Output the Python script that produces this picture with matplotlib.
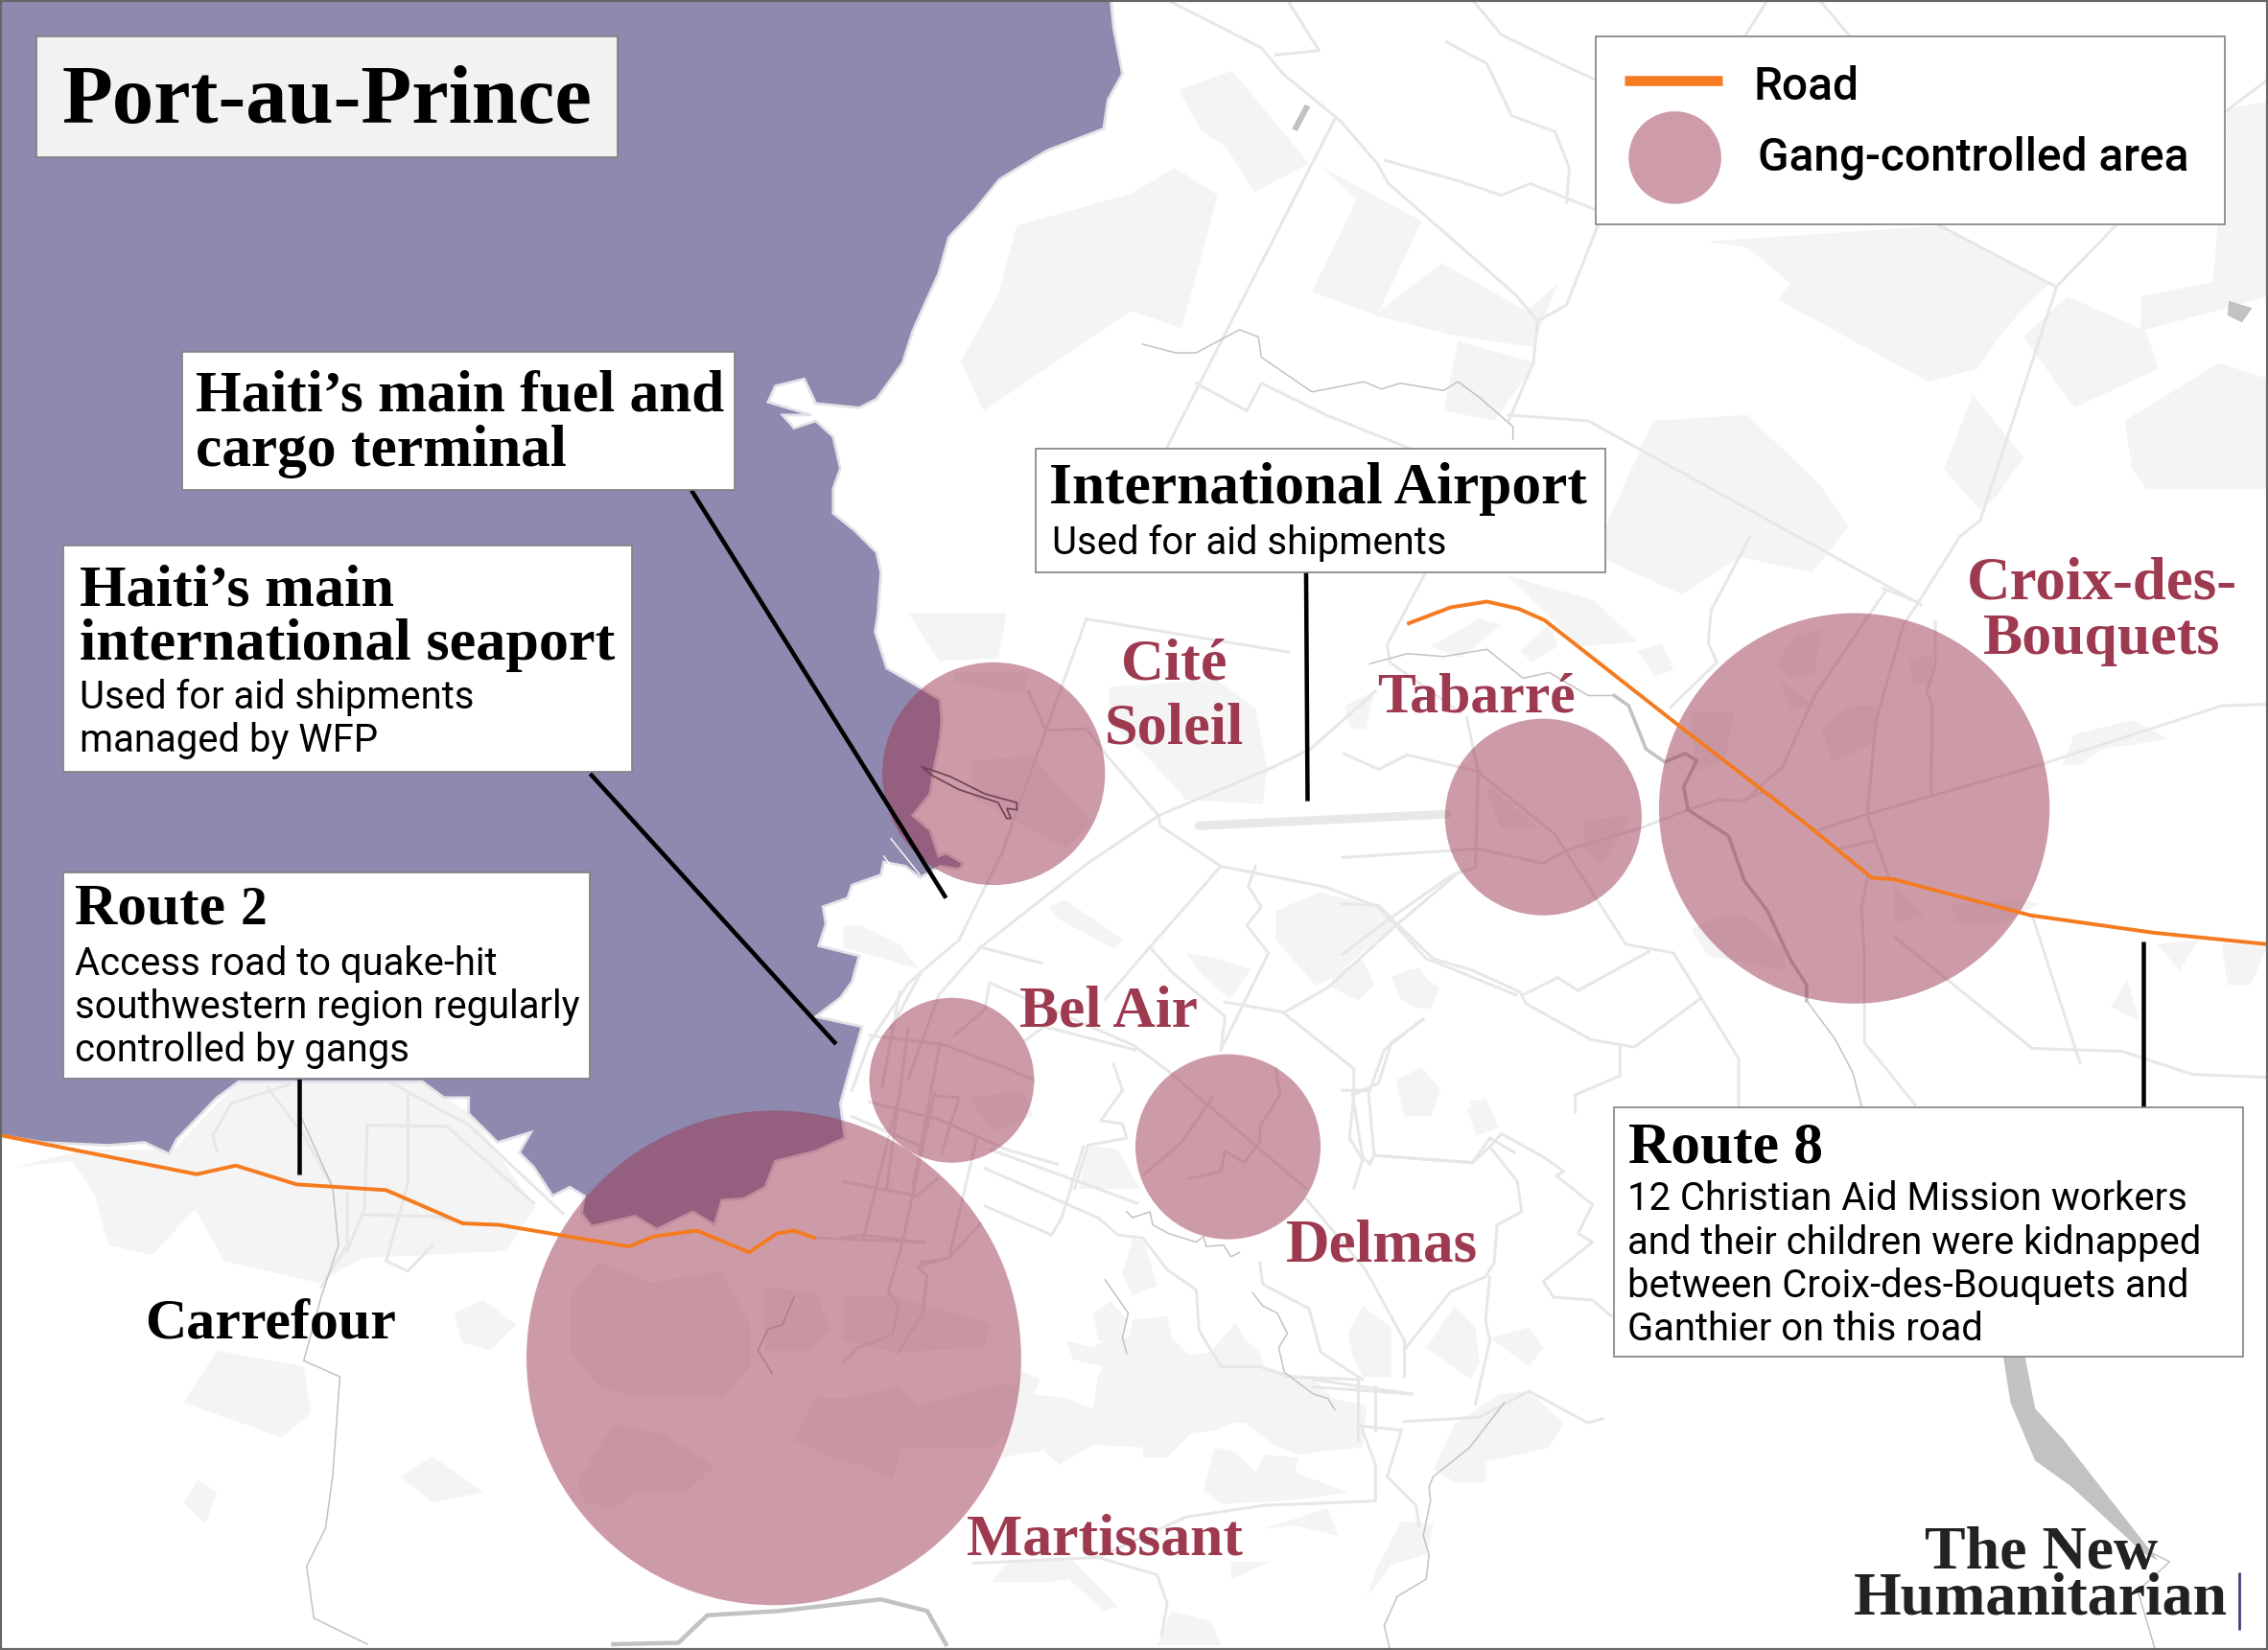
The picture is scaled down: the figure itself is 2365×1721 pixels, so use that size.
#!/usr/bin/env python3
"""Port-au-Prince gang control map, traced by eye from the reference picture.

All coordinates are map positions on a 1568 x 1141 grid, y running downwards.
"""
import matplotlib

matplotlib.use("Agg")
import matplotlib.pyplot as plt
from matplotlib.patches import Circle, Polygon, Rectangle

WATER = "#8e89ae"
PATCH = "#f4f4f4"
ROAD = "#e7e7e7"
RIVER = "#c2c2c2"
ORANGE = "#f47b20"
CRIMSON = "#9e3a50"
SERIF = "Liberation Serif"
SANS = "Roboto"

COAST = [
    (768, 0), (770, 20), (776, 51), (766, 69), (763, 89), (724, 104), (691, 124), (674, 145),
    (656, 164), (649, 189), (639, 211), (631, 229), (624, 251), (606, 276), (594, 282),
    (564, 279), (556, 262), (536, 267), (531, 278), (561, 287), (541, 287), (549, 296),
    (564, 291), (576, 302), (581, 324), (576, 338), (576, 355), (591, 367), (606, 382),
    (609, 396), (607, 424), (605, 437), (613, 462), (625, 469), (637, 476), (650, 484),
    (651, 498), (650, 511), (646, 530), (643, 549), (631, 564), (643, 574), (649, 592),
    (654, 590), (666, 597), (663, 601), (650, 599), (636, 607),
    (626, 599), (611, 596), (609, 605), (589, 612), (586, 621), (569, 627), (571, 639),
    (566, 654), (594, 661), (589, 679), (581, 690), (564, 703), (596, 710), (589, 734),
    (581, 763), (584, 787), (564, 796), (536, 803), (529, 821), (514, 829), (499, 830),
    (494, 847), (479, 838), (454, 850), (439, 841), (409, 848), (402, 839), (404, 827),
    (394, 821), (382, 827), (369, 807), (359, 797), (367, 783), (344, 790), (324, 770),
    (324, 759), (307, 759), (292, 748), (165, 748), (150, 759), (122, 788), (117, 798),
    (100, 790), (75, 792), (30, 790), (0, 785), (0, 0),
]

BUILT_UP = [
    [(1180, 167), (1342, 156), (1417, 196), (1395, 218), (1382, 233), (1367, 255), (1333, 264), (1229, 207), (1238, 196), (1208, 171)],
    [(1429, 205), (1484, 229), (1492, 255), (1434, 282), (1399, 233)],
    [(1469, 291), (1534, 251), (1568, 262), (1568, 338), (1484, 338), (1474, 324)],
    [(1540, 75), (1568, 70), (1568, 205), (1480, 229), (1480, 205), (1530, 195)],
    [(815, 62), (852, 49), (905, 113), (867, 133), (848, 102), (830, 90)],
    [(703, 156), (782, 134), (812, 116), (842, 135), (817, 227), (782, 215), (680, 284), (664, 250), (690, 204)],
    [(913, 115), (983, 153), (952, 218), (907, 202), (938, 138)],
    [(950, 218), (997, 182), (1055, 215), (1077, 196), (1060, 240), (1005, 232)],
    [(1008, 236), (1062, 251), (1033, 291), (998, 284)],
    [(1102, 382), (1143, 291), (1208, 287), (1258, 335), (1278, 364), (1253, 396), (1203, 385), (1163, 411), (1123, 393)],
    [(1344, 324), (1364, 273), (1399, 316), (1379, 345), (1369, 353)],
    [(1042, 398), (1102, 415), (1132, 444), (1092, 447)],
    # Cité Soleil area
    [(628, 424), (696, 424), (690, 455), (649, 457)],
    [(767, 475), (841, 470), (868, 490), (876, 531), (873, 556), (820, 553), (791, 521), (767, 500)],
    [(672, 526), (714, 523), (755, 569), (737, 587), (672, 551)],
    [(660, 465), (711, 465), (708, 480), (660, 472)],
    [(930, 488), (950, 478), (944, 505), (933, 503)],
    # Martissant circle
    [(394, 898), (414, 872), (449, 887), (499, 879), (519, 916), (519, 945), (499, 966), (439, 966), (414, 959), (394, 934)],
    [(529, 890), (564, 894), (574, 919), (559, 934), (529, 934)],
    [(399, 1025), (424, 985), (459, 992), (494, 1014), (474, 1032), (439, 1032), (424, 1043), (404, 1039)],
    [(549, 996), (564, 966), (583, 967), (583, 1011), (564, 1003)],
    [(583, 896), (617, 896), (685, 915), (681, 932), (617, 935), (583, 927)],
    [(583, 967), (621, 959), (634, 972), (692, 957), (705, 959), (695, 991), (685, 1001), (624, 1001), (617, 1023), (597, 1013), (583, 1011)],
    # Carrefour
    [(10, 807), (50, 803), (65, 825), (75, 861), (105, 868), (135, 836), (155, 872), (220, 887), (250, 870), (350, 865), (370, 835), (325, 770), (290, 748), (165, 748), (120, 795), (60, 795)],
    [(127, 970), (150, 934), (210, 945), (215, 977), (195, 994)],
    [(314, 908), (334, 899), (357, 916), (339, 934), (319, 928)],
    [(277, 1021), (299, 1007), (334, 1032), (299, 1039)],
    [(127, 1039), (137, 1023), (150, 1032), (142, 1054)],
    # south of Delmas
    [(737, 927), (756, 932), (766, 925), (781, 925), (783, 913), (807, 910), (810, 925), (822, 937), (837, 935), (847, 923), (854, 915), (861, 927), (871, 935), (874, 945), (891, 950), (908, 954), (922, 967), (945, 972), (942, 1001), (918, 1003), (898, 1006), (881, 999), (861, 984), (851, 984), (841, 989), (824, 991), (807, 1008), (790, 1008), (790, 1001), (756, 999), (732, 1013), (722, 1003), (702, 1006), (692, 1008), (705, 947), (719, 954), (715, 964), (736, 967), (756, 974), (759, 952), (763, 945), (742, 940)],
    [(832, 1030), (840, 1001), (854, 1004), (868, 1018), (874, 1006), (898, 1008), (895, 1018), (932, 1032), (888, 1038), (844, 1040)],
    [(776, 881), (783, 856), (791, 859), (800, 889), (783, 896)],
    [(756, 908), (768, 900), (780, 913), (776, 925), (759, 927)],
    [(932, 922), (942, 903), (962, 918), (962, 952), (942, 952), (935, 937)],
    [(986, 932), (1006, 903), (1020, 918), (1023, 942), (1017, 954)],
    [(1030, 925), (1057, 918), (1067, 932), (1057, 945)],
    [(991, 1016), (1006, 984), (1037, 964), (1057, 962), (1081, 984), (1071, 1001), (1027, 1011), (1027, 1025), (1006, 1025)],
    [(952, 1084), (969, 1052), (991, 1054), (986, 1075), (962, 1082), (945, 1104)],
    [(800, 1138), (810, 1114), (837, 1121), (844, 1138)],
    [(874, 1057), (918, 1043), (925, 1062), (895, 1055)],
    [(685, 1094), (698, 1079), (742, 1079), (773, 1111), (763, 1114), (739, 1092), (725, 1094)],
    [(851, 1080), (878, 1080), (851, 1092)],
    [(1016, 761), (1027, 761), (1035, 780), (1023, 784)],
    [(972, 758), (993, 756), (986, 770), (972, 770)],
    # Croix-des-Bouquets circle
    [(1259, 503), (1279, 488), (1300, 488), (1297, 513), (1267, 527)],
    [(1228, 458), (1242, 440), (1259, 435), (1255, 465), (1238, 470)],
    [(1230, 470), (1255, 488), (1238, 490)],
    [(1320, 457), (1336, 452), (1336, 473), (1322, 473)],
    [(1169, 493), (1199, 492), (1193, 524), (1173, 534)],
    [(1169, 643), (1185, 635), (1206, 633), (1234, 658), (1234, 671), (1181, 661)],
    [(1310, 612), (1330, 633), (1310, 638)],
    [(1348, 625), (1397, 622), (1410, 625), (1381, 640), (1353, 638)],
    [(1426, 529), (1434, 508), (1475, 498), (1499, 511), (1454, 518), (1438, 529)],
    # Tabarré
    [(1030, 544), (1063, 572), (1038, 573), (1028, 549)],
    [(1095, 567), (1128, 564), (1108, 597), (1095, 589)],
    [(989, 447), (1022, 428), (1038, 432), (1010, 455)],
    [(1051, 450), (1071, 432), (1077, 447), (1059, 458)],
    [(1132, 450), (1149, 445), (1157, 463), (1144, 468)],
    [(965, 676), (981, 669), (993, 686), (981, 698), (969, 691)],
    [(1459, 696), (1471, 678), (1479, 706)],
    [(1491, 653), (1520, 650), (1507, 671)],
    [(1536, 653), (1568, 653), (1556, 681), (1540, 681)],
    # between Bel Air and Tabarré
    [(882, 630), (912, 617), (953, 627), (965, 640), (918, 678), (909, 681), (882, 650)],
    [(820, 659), (841, 663), (865, 670), (850, 691), (832, 675)],
    [(725, 627), (736, 622), (777, 650), (770, 656), (731, 635)],
    [(921, 673), (942, 663), (950, 681), (939, 692), (921, 683)],
    [(962, 675), (977, 670), (995, 683), (989, 698), (968, 691)],
    [(965, 747), (983, 738), (996, 754), (989, 772), (971, 772)],
    [(1014, 767), (1027, 759), (1036, 780), (1021, 785)],
    [(583, 640), (595, 640), (622, 653), (635, 670), (583, 655)],
    [(746, 822), (752, 792), (773, 795), (788, 822)],
    [(669, 759), (708, 754), (714, 772), (687, 782)],
]

ROADS = [
    [(807, 0), (872, 33), (887, 51), (927, 84), (952, 113), (960, 127), (1048, 204), (1063, 222), (1060, 251), (1043, 291)],
    [(923, 82), (807, 309)],
    [(1063, 222), (1083, 211), (1105, 155)],
    [(958, 111), (1008, 125), (1038, 135), (1058, 127), (1103, 145)],
    [(1018, 0), (1038, 24), (1085, 47), (1103, 55)],
    [(1000, 29), (1028, 44), (1045, 80), (1075, 91), (1085, 116), (1083, 140)],
    [(1043, 287), (1098, 291), (1328, 418)],
    [(1568, 55), (1540, 76), (1422, 198), (1369, 360), (1355, 371)],
    [(1421, 198), (1341, 156)],
    [(890, 0), (912, 35), (882, 38)],
    [(1207, 24), (1222, 0)],
    [(1258, 0), (1278, 24)],
    [(1325, 416), (1302, 407)],
    [(827, 265), (862, 284), (872, 265), (917, 287), (982, 313)],
    # Tabarré and airport
    [(928, 593), (1022, 587), (1067, 597), (1083, 588), (1136, 572), (1167, 560), (1189, 553), (1204, 554), (1220, 547)],
    [(1257, 574), (1291, 563), (1410, 529), (1536, 488), (1568, 487)],
    [(1271, 587), (1297, 581)],
    [(1355, 371), (1326, 417), (1316, 432), (1297, 498), (1291, 563), (1297, 582), (1306, 607)],
    [(1291, 607), (1287, 628), (1289, 663), (1289, 721), (1304, 739), (1324, 764)],
    [(1304, 408), (1255, 480), (1232, 531), (1222, 539), (1206, 554)],
    [(1210, 371), (1183, 422), (1181, 445), (1187, 458), (1155, 489)],
    [(1338, 430), (1338, 460), (1332, 478), (1336, 488), (1335, 549)],
    [(1310, 648), (1405, 725), (1467, 727), (1516, 743), (1568, 745)],
    [(1405, 633), (1438, 735)],
    [(1014, 496), (1022, 534), (1020, 600), (1004, 605), (957, 638), (928, 660)],
    [(1022, 534), (1075, 577), (1124, 653), (1157, 659), (1202, 732), (1202, 769)],
    [(928, 625), (953, 626), (967, 640), (991, 663), (1018, 671), (1051, 686), (1055, 694), (1100, 719), (1130, 724), (1175, 691)],
    [(1053, 688), (1077, 676), (1091, 685), (1140, 658)],
    [(929, 521), (953, 532), (973, 522), (1024, 534)],
    [(1120, 724), (1120, 744), (1089, 757), (1089, 769)],
    [(983, 705), (957, 726), (947, 754), (928, 754)],
    [(985, 397), (959, 446), (961, 458), (1010, 493)],
    # centre
    [(751, 428), (723, 505), (693, 589), (663, 650), (637, 672), (616, 711)],
    [(801, 564), (879, 531), (906, 518), (951, 478)],
    [(801, 564), (752, 597), (678, 655), (649, 688), (628, 746)],
    [(751, 428), (891, 451)],
    [(711, 478), (723, 505), (751, 504), (764, 521), (801, 564)],
    [(801, 564), (802, 571), (844, 599), (915, 613), (953, 627), (986, 663), (1004, 670), (1048, 688)],
    [(844, 599), (795, 655), (764, 691)],
    [(795, 655), (811, 673), (847, 703), (844, 726)],
    [(868, 599), (863, 613), (872, 627), (862, 640), (877, 659), (844, 726)],
    [(847, 693), (888, 700), (918, 683), (965, 640), (1010, 602)],
    [(888, 701), (936, 739), (936, 754), (946, 754), (950, 799), (1018, 804), (1030, 787), (1047, 797)],
    [(984, 705), (962, 721), (953, 749), (936, 757)],
    [(936, 757), (933, 787), (942, 802), (936, 822)],
    [(678, 655), (720, 666)],
    [(685, 680), (784, 723), (808, 741), (903, 822)],
    [(770, 736), (776, 754), (761, 775), (776, 777), (779, 787), (752, 792), (743, 822)],
    [(882, 739), (885, 757), (871, 779), (871, 790), (860, 804), (847, 796), (844, 810), (823, 815)],
    [(838, 759), (817, 790), (791, 812)],
    # Bel Air grid
    [(589, 754), (601, 721), (628, 680), (637, 672)],
    [(622, 686), (610, 751)],
    [(628, 711), (613, 822)],
    [(650, 721), (637, 790), (631, 822)],
    [(660, 716), (681, 698), (684, 680)],
    [(601, 716), (651, 722), (697, 739), (715, 747)],
    [(601, 762), (649, 774), (696, 795), (731, 805)],
    [(589, 772), (635, 792)],
    [(647, 758), (663, 759), (651, 797)],
    [(708, 720), (722, 710), (785, 726)],
    # Martissant
    [(583, 817), (634, 827), (648, 815)],
    [(583, 856), (597, 854), (637, 859)],
    [(637, 873), (656, 870), (678, 846)],
    [(622, 756), (597, 856)],
    [(646, 756), (624, 859), (614, 893), (621, 903), (617, 923), (593, 932), (583, 942)],
    [(675, 788), (656, 870), (634, 876), (641, 882), (638, 908), (621, 935)],
    [(564, 856), (639, 859)],
    # Delmas and south
    [(685, 795), (759, 822), (786, 832)],
    [(681, 808), (736, 832), (759, 842), (773, 854), (790, 856), (807, 878), (827, 892), (829, 920), (844, 945), (871, 945), (891, 952), (939, 954)],
    [(749, 793), (734, 842), (727, 854), (681, 834)],
    [(871, 873), (873, 888), (905, 905), (913, 935), (942, 954)],
    [(903, 829), (944, 878), (971, 927), (971, 952)],
    [(935, 756), (942, 800), (947, 805), (950, 799), (1018, 804), (1030, 793), (1049, 817), (1052, 838), (1035, 847), (1033, 873), (1027, 883), (1003, 893), (972, 932)],
    [(1030, 793), (1038, 784), (1067, 800), (1081, 810), (1076, 813), (1101, 833), (1091, 853), (1101, 859), (1067, 886), (1074, 897), (1101, 899), (1114, 910)],
    [(1030, 883), (1027, 913), (1030, 927), (1020, 971)],
    [(971, 983), (1023, 980), (1057, 962), (1098, 984), (1108, 981)],
    [(942, 989), (951, 1013), (951, 1038), (874, 1041), (820, 1049), (759, 1077), (800, 1089), (807, 1109), (803, 1131)],
    [(673, 1081), (759, 1077)],
    [(969, 989), (959, 1021), (979, 1041), (981, 1055)],
    [(908, 954), (976, 964)],
    [(908, 959), (976, 964)],
    [(939, 954), (939, 996)],
    [(951, 959), (951, 989)],
    [(939, 986), (969, 989)],
    # Carrefour
    [(150, 796), (147, 785), (160, 763), (200, 750)],
    [(185, 752), (210, 785), (230, 821)],
    [(254, 778), (252, 836), (240, 865)],
    [(282, 756), (282, 818), (267, 872), (282, 879), (299, 861)],
    [(254, 778), (309, 779), (369, 832)],
    [(269, 748), (324, 778), (389, 839)],
    [(240, 825), (240, 861), (222, 890)],
    [(250, 840), (299, 841), (324, 846)],
]

RIVERS_THIN = [
    [(207, 770), (230, 821), (234, 861), (222, 897), (210, 941), (235, 952), (230, 1021), (225, 1057), (212, 1083), (217, 1119), (254, 1137)],
    [(790, 238), (813, 244), (827, 244), (857, 228), (870, 233), (872, 247), (907, 271), (943, 264), (955, 269), (968, 265), (998, 270), (1008, 264), (1023, 275), (1046, 295), (1046, 304)],
    [(947, 459), (973, 452), (998, 454), (1028, 449), (1053, 469), (1071, 465), (1098, 481), (1116, 481)],
    [(1249, 692), (1269, 719), (1281, 742), (1287, 765)],
    [(549, 897), (541, 916), (531, 919), (524, 934), (534, 950)],
    [(764, 885), (780, 908), (776, 925), (779, 936)],
    [(866, 894), (873, 903), (883, 908), (890, 922), (884, 932), (888, 949), (908, 964), (918, 967), (923, 975)],
    [(1040, 970), (1016, 1001), (991, 1021), (988, 1028), (989, 1038), (984, 1062), (988, 1075), (986, 1092), (966, 1104), (957, 1124), (961, 1141)],
    [(779, 838), (783, 842), (795, 838), (797, 847), (808, 853), (827, 859), (832, 855), (834, 862), (846, 861), (851, 869), (857, 866)],
    [(1476, 1068), (1500, 1080), (1478, 1100), (1490, 1141)],
]
RIVER_MID = [(1116, 481), (1126, 488), (1138, 518), (1151, 527), (1165, 521), (1173, 526), (1164, 544), (1167, 560), (1195, 578), (1206, 609), (1222, 630), (1238, 664), (1249, 681), (1249, 692)]
WIDE_RIVER_SOUTH = [(424, 1137), (469, 1136), (489, 1117), (539, 1114), (609, 1106), (641, 1114), (654, 1137)]
WIDE_RIVER_EAST = [(1385, 938), (1400, 938), (1407, 974), (1427, 996), (1492, 1079), (1482, 1074), (1432, 1028), (1407, 1010), (1390, 970)]
LAKE_EAST = [(1541, 208), (1557, 213), (1550, 223), (1540, 218)]

PIER = [(637, 530), (657, 537), (681, 549), (703, 555), (703, 560), (696, 559), (699, 566), (696, 566), (690, 555), (663, 546), (644, 536)]
AIRSTRIP = [(829, 571), (1000, 563)]

ROAD_WEST = [(0, 785), (136, 812), (163, 806), (205, 819), (267, 823), (320, 846), (345, 847), (435, 862), (452, 855), (482, 851), (518, 866), (537, 853), (549, 851), (563, 856)]
ROAD_EAST = [(974, 431), (1003, 420), (1028, 416), (1050, 421), (1068, 429), (1161, 502), (1249, 570), (1294, 607), (1309, 608), (1404, 633), (1489, 645), (1568, 653)]

AREA_X = [687, 1067, 1282, 658, 849, 535]
AREA_Y = [535, 565, 559, 747, 793, 939]
AREA_R = [77, 68, 135, 57, 64, 171]

LEADERS = [
    [(478, 339), (654, 621)],
    [(408, 535), (578, 722)],
    [(903, 396), (904, 554)],
    [(207, 746), (207, 812)],
    [(1482, 651), (1482, 766)],
]

BOXES = [
    (126, 243, 508, 339),
    (44, 377, 437, 534),
    (716, 310, 1110, 396),
    (44, 603, 408, 746),
    (1116, 766, 1551, 938),
]


def px(v):
    """Map units to points at dpi 100."""
    return v * 1.5083 * 0.72


def label(ax, x, y, s, size, color="black", family=SERIF, weight="bold", ha="left"):
    ax.text(x, y, s, fontsize=size, color=color, family=family, fontweight=weight, ha=ha, va="baseline", zorder=12)


def note(ax, x, y, s):
    label(ax, x, y + 1, s, 28.8, family=SANS, weight="normal")


def draw_box(ax, x0, y0, x1, y1, fill="white", edge="#808080"):
    ax.add_patch(Rectangle((x0, y0), x1 - x0, y1 - y0, facecolor=fill, edgecolor=edge, linewidth=1.2, zorder=10))


def draw_base(ax):
    for poly in BUILT_UP:
        ax.add_patch(Polygon(poly, closed=True, facecolor=PATCH, edgecolor="none", zorder=1))
    for road in ROADS:
        xs, ys = zip(*road)
        ax.plot(xs, ys, color=ROAD, lw=px(2.0), zorder=2, solid_joinstyle="round")
    for river in RIVERS_THIN:
        xs, ys = zip(*river)
        ax.plot(xs, ys, color=RIVER, lw=px(1.0), zorder=2.5)
    xs, ys = zip(*RIVER_MID)
    ax.plot(xs, ys, color=RIVER, lw=px(2.4), zorder=2.5)
    xs, ys = zip(*WIDE_RIVER_SOUTH)
    ax.plot(xs, ys, color=RIVER, lw=px(3), zorder=2.5)
    ax.add_patch(Polygon(WIDE_RIVER_EAST, closed=True, facecolor=RIVER, edgecolor="none", zorder=2.5))
    ax.add_patch(Polygon(LAKE_EAST, closed=True, facecolor=RIVER, edgecolor="none", zorder=2.5))
    ax.plot([895, 904], [90, 73], color=RIVER, lw=px(4), zorder=2.5, solid_capstyle="butt")
    xs, ys = zip(*AIRSTRIP)
    ax.plot(xs, ys, color="#e8e8e8", lw=px(6), zorder=2.5, solid_capstyle="round")
    ax.add_patch(Polygon(COAST, closed=True, facecolor=WATER, edgecolor="#e2e2e8", linewidth=2, zorder=3))
    ax.plot([616, 636], [580, 605], color="white", lw=1.0, zorder=3.2)
    ax.plot([611, 620], [592, 604], color="white", lw=1.0, zorder=3.2)


def main():
    fig = plt.figure(figsize=(23.65, 17.21), dpi=100)
    ax = fig.add_axes([0, 0, 1, 1])
    ax.set_xlim(0, 1568)
    ax.set_ylim(1141, 0)
    ax.axis("off")
    fig.patch.set_facecolor("white")

    draw_base(ax)

    for x, y, r in zip(AREA_X, AREA_Y, AREA_R):
        ax.add_patch(Circle((x, y), r, facecolor="#9d3851", edgecolor="none", alpha=0.5, zorder=4))
    ax.add_patch(Polygon(PIER, closed=True, facecolor="none", edgecolor="#6f3f55", linewidth=px(1.1), zorder=5))

    for seg in LEADERS:
        xs, ys = zip(*seg)
        ax.plot(xs, ys, color="black", lw=px(3), zorder=6, solid_capstyle="butt")
    for road in (ROAD_WEST, ROAD_EAST):
        xs, ys = zip(*road)
        ax.plot(xs, ys, color=ORANGE, lw=px(2.6), zorder=7, solid_joinstyle="round")

    # title
    draw_box(ax, 25, 25, 427, 109, fill="#f2f2f2")
    label(ax, 43, 85, "Port-au-Prince", 62.4)

    # callouts
    for box in BOXES:
        draw_box(ax, *box)
    label(ax, 135, 284, "Haiti\u2019s main fuel and", 44.2)
    label(ax, 135, 322, "cargo terminal", 44.2)
    label(ax, 55, 419, "Haiti\u2019s main", 44.8)
    label(ax, 55, 456, "international seaport", 44.8)
    note(ax, 55, 489, "Used for aid shipments")
    note(ax, 55, 519, "managed by WFP")
    label(ax, 725, 348, "International Airport", 44.2)
    note(ax, 727, 382, "Used for aid shipments")
    label(ax, 52, 639, "Route", 44.2)
    label(ax, 166, 639, "2", 40)
    note(ax, 52, 673, "Access road to quake-hit")
    note(ax, 52, 703, "southwestern region regularly")
    note(ax, 52, 733, "controlled by gangs")
    label(ax, 1126, 804, "Route 8", 44.2)
    note(ax, 1125, 836, "12 Christian Aid Mission workers")
    note(ax, 1125, 866, "and their children were kidnapped")
    note(ax, 1125, 896, "between Croix-des-Bouquets and")
    note(ax, 1125, 926, "Ganthier on this road")

    # place names
    label(ax, 100, 926, "Carrefour", 43.2)
    label(ax, 812, 470, "Cit\u00e9", 44.8, CRIMSON, ha="center")
    label(ax, 812, 514, "Soleil", 44.8, CRIMSON, ha="center")
    label(ax, 952, 492, "Tabarr\u00e9", 43, CRIMSON)
    label(ax, 705, 710, "Bel Air", 44.2, CRIMSON)
    label(ax, 889, 872, "Delmas", 45.5, CRIMSON)
    label(ax, 668, 1075, "Martissant", 44.5, CRIMSON)
    label(ax, 1360, 414, "Croix-des-", 45.4, CRIMSON)
    label(ax, 1371, 452, "Bouquets", 44.5, CRIMSON)

    # legend
    draw_box(ax, 1103, 25, 1538, 155)
    ax.plot([1123, 1191], [56, 56], color=ORANGE, lw=px(7), zorder=11, solid_capstyle="butt")
    ax.add_patch(Circle((1158, 109), 32, facecolor="#ce9ca8", edgecolor="none", zorder=11))
    label(ax, 1212, 69, "Road", 34.5, family=SANS, weight="medium")
    label(ax, 1215, 118, "Gang-controlled area", 34.5, family=SANS, weight="medium")

    # logo, one centred block
    ax.text(1411, 1116, "The New\nHumanitarian", fontsize=46, color="#222222", family=SERIF, fontweight="bold",
            ha="center", ma="center", va="baseline", linespacing=0.75, zorder=12)
    ax.plot([1548, 1548], [1087, 1127], color="#3f3d77", lw=px(1.8), zorder=12, solid_capstyle="butt")

    # outer frame
    ax.add_patch(Rectangle((0, 0), 1568, 1141, facecolor="none", edgecolor="#666666", linewidth=3, zorder=20))

    fig.savefig("out.png", dpi=100)


if __name__ == "__main__":
    main()
